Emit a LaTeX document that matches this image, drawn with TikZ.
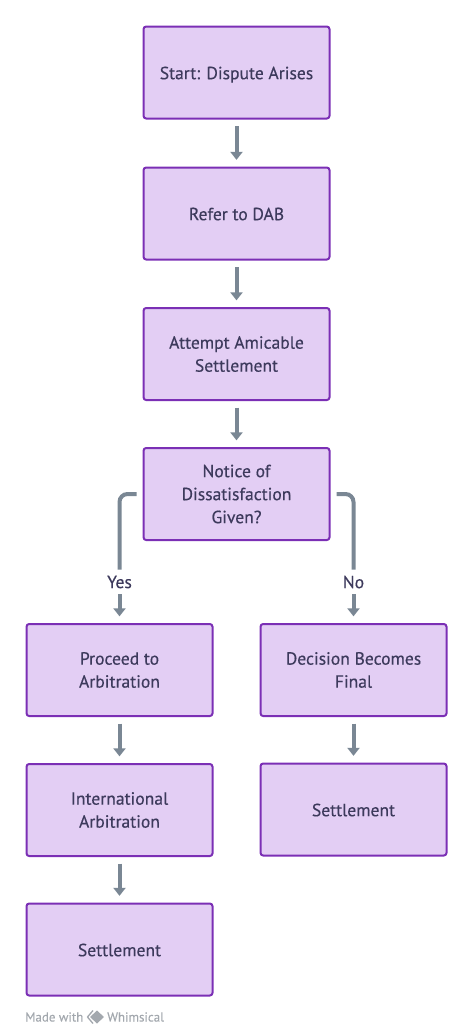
\documentclass[tikz,border=0pt]{standalone}
\usepackage{fontspec}
\setmainfont{PT Sans}[RawFeature={embolden=0.35}]
\usetikzlibrary{arrows.meta}
\definecolor{boxfill}{HTML}{E3CEF4}
\definecolor{boxline}{HTML}{7B2FB5}
\definecolor{flowgray}{HTML}{7A8794}
\definecolor{inkblue}{HTML}{3D3A5C}
\definecolor{footgray}{HTML}{A3A8AE}
\tikzset{
  stepbox/.style={draw=boxline,fill=boxfill,line width=1.5pt,rounded corners=2pt,minimum width=139.5pt,minimum height=69pt,inner sep=0pt,align=center,text=inkblue,font=\fontsize{13.2}{17.25}\selectfont},
  onelinebox/.style={stepbox,execute at begin node={\rule{0pt}{13pt}},execute at end node={\rule[-3pt]{0pt}{3pt}}},
  flow/.style={draw=flowgray,line width=3pt,rounded corners=6pt},
  flowtip/.style={flow,-{Triangle[width=9pt,length=6pt]}},
  edgelabel/.style={text=inkblue,font=\fontsize{13.2}{14}\selectfont,inner sep=0pt,minimum height=18pt},
  footnote/.style={anchor=west,inner sep=0pt,text=footgray,font=\fontsize{9.7}{11}\selectfont},
}
\begin{document}
\begin{tikzpicture}[x=0.75pt,y=-0.75pt]
  \useasboundingbox (0,0) rectangle (474,1036);
  \node[onelinebox] (start) at (236.5,72.5) {Start: Dispute Arises};
  \node[onelinebox] (dab) at (236.5,213.5) {Refer to DAB};
  \node[stepbox] (amicable) at (236.5,354) {Attempt Amicable\\ Settlement};
  \node[stepbox] (notice) at (236.5,494) {Notice of\\Dissatisfaction\\ Given?};
  \node[stepbox] (proceed) at (119.5,670) {Proceed to\\Arbitration};
  \node[stepbox] (final) at (353.5,670) {Decision Becomes\\Final};
  \node[stepbox] (intl) at (119.5,810) {International\\Arbitration};
  \node[onelinebox] (settleb) at (353.5,809.5) {Settlement};
  \node[onelinebox] (settlea) at (119.5,949.5) {Settlement};
  \node[edgelabel] (yes) at (119.5,582) {Yes};
  \node[edgelabel] (no) at (353.5,582) {No};
  \draw[flowtip,shorten <=5pt,shorten >=5pt] (start) -- (dab);
  \draw[flowtip,shorten <=5pt,shorten >=5pt] (dab) -- (amicable);
  \draw[flowtip,shorten <=5pt,shorten >=5pt] (amicable) -- (notice);
  \draw[flow,shorten <=4.5pt] (notice.west) -| (yes);
  \draw[flow,shorten <=4.5pt] (notice.east) -| (no);
  \draw[flowtip,shorten >=5pt] (yes) -- (proceed);
  \draw[flowtip,shorten >=5pt] (no) -- (final);
  \draw[flowtip,shorten <=5pt,shorten >=5pt] (proceed) -- (intl);
  \draw[flowtip,shorten <=5pt,shorten >=5pt] (final) -- (settleb);
  \draw[flowtip,shorten <=5pt,shorten >=5pt] (intl) -- (settlea);
  \node[footnote] (made) at (25,1017) {Made with};
  \node[footnote] (whim) at (107,1017) {Whimsical};
  \draw[footgray,line width=1pt,line join=round] (93,1010.5) -- (87.5,1017) -- (93,1023.5);
  \fill[footgray] (97,1010.5) -- (104,1017) -- (97,1023.5) -- (90,1017) -- cycle;
\end{tikzpicture}
\end{document}
